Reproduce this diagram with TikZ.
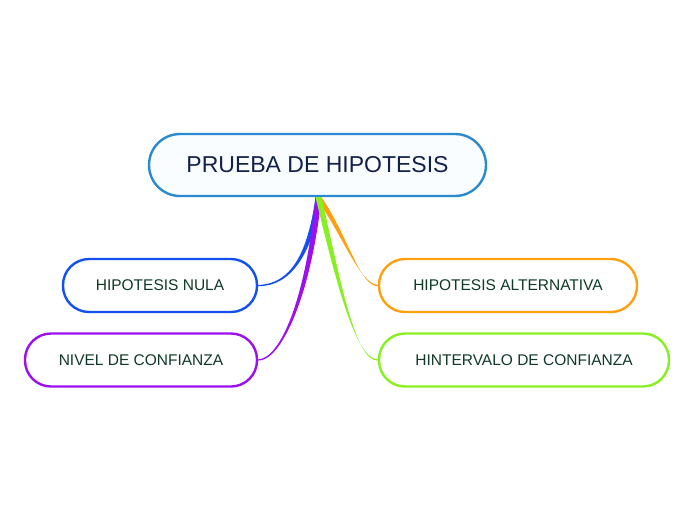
\documentclass[tikz,border=0pt]{standalone}
\usepackage{fontspec}
\setmainfont{Liberation Sans}
\usetikzlibrary{calc}
\definecolor{hubline}{HTML}{2A8AD0}
\definecolor{hubfill}{HTML}{FAFDFF}
\definecolor{hubtext}{HTML}{13204A}
\definecolor{subtext}{HTML}{103A28}
\definecolor{cblue}{HTML}{1450F0}
\definecolor{cpurple}{HTML}{9B10F0}
\definecolor{corange}{HTML}{FFA010}
\definecolor{cgreen}{HTML}{88F020}
\newcommand\taperbranch[5]{%
  \fill[#1] ($#2+(-3,0)$) .. controls ($#3+(-2.4,0)$) and ($#4+(0,-1.3)$) .. ($#5+(0,-0.6)$)
    -- ($#5+(0,0.6)$) .. controls ($#4+(0,1.3)$) and ($#3+(2.4,0)$) .. ($#2+(3,0)$) -- cycle;}
\begin{document}
\begin{tikzpicture}[x=1pt,y=-1pt,
  hubbox/.style={draw=hubline, line width=2.4pt, fill=hubfill, rounded corners=31pt,
    minimum width=337pt, minimum height=62pt, text=hubtext, font=\fontsize{23}{26}\selectfont, inner sep=0pt},
  subbox/.style={line width=2.4pt, fill=white, rounded corners=26pt, minimum height=53pt,
    text=subtext, font=\fontsize{15.5}{18}\selectfont, inner sep=0pt}]
\useasboundingbox (0,0) rectangle (696,520);
\node[hubbox] (hub) at (317.5,165) {PRUEBA DE HIPOTESIS};
\node[subbox, draw=cblue, minimum width=194pt] (nula) at (160,285.5) {HIPOTESIS NULA};
\node[subbox, draw=cpurple, minimum width=232pt] (nivel) at (141,360) {NIVEL DE CONFIANZA};
\node[subbox, draw=corange, minimum width=258pt] (alt) at (508,285.5) {HIPOTESIS ALTERNATIVA};
\node[subbox, draw=cgreen, minimum width=290pt] (int) at (524,360) {HINTERVALO DE CONFIANZA};
\coordinate (root) at ($(hub.south)+(1,0)$);
\taperbranch{cblue}{(root)}{(310,255)}{(290,285.5)}{(nula.east)}
\taperbranch{cpurple}{(root)}{(308,300)}{(280,360)}{(nivel.east)}
\taperbranch{corange}{(root)}{(345,235)}{(360,285.5)}{(alt.west)}
\taperbranch{cgreen}{(root)}{(338,280)}{(355,360)}{(int.west)}
\end{tikzpicture}
\end{document}
